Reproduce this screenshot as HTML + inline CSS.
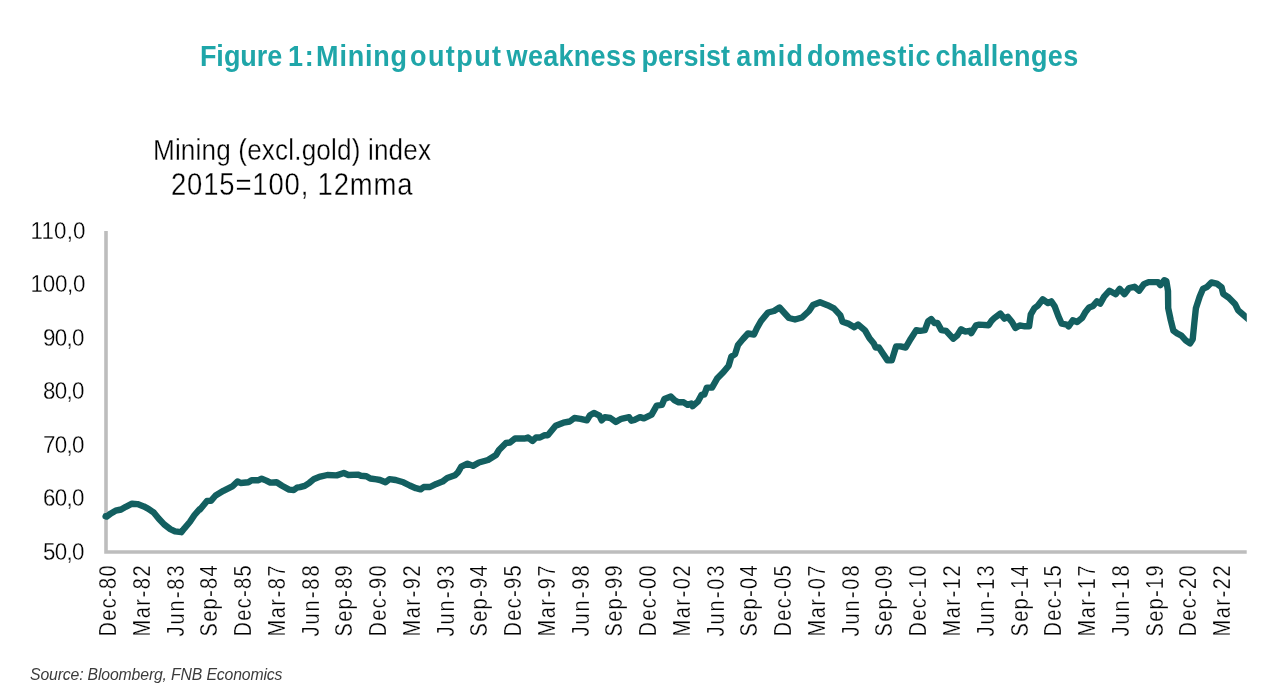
<!DOCTYPE html>
<html><head><meta charset="utf-8"><style>
html,body{margin:0;padding:0;background:#fff;overflow:hidden;}
svg{display:block;font-family:"Liberation Sans",sans-serif;will-change:transform;}
</style></head><body>
<svg width="1280" height="700" viewBox="0 0 1280 700">
<rect width="1280" height="700" fill="#fff"/>
<g fill="#1fa6a9" font-weight="bold" font-size="30" stroke="#fff" stroke-width="0"><text transform="translate(199.9,65.5) scale(0.9,1)" textLength="91.63" lengthAdjust="spacing">Figure</text>
<text transform="translate(288.0,65.5) scale(0.9,1)" textLength="28.50" lengthAdjust="spacing">1:</text>
<text transform="translate(316.12,65.5) scale(0.9,1)" textLength="100.97" lengthAdjust="spacing">Mining</text>
<text transform="translate(410.04,65.5) scale(0.9,1)" textLength="101.17" lengthAdjust="spacing">output</text>
<text transform="translate(506.6,65.5) scale(0.9,1)" textLength="144.03" lengthAdjust="spacing">weakness</text>
<text transform="translate(641.54,65.5) scale(0.9,1)" textLength="98.40" lengthAdjust="spacing">persist</text>
<text transform="translate(736.24,65.5) scale(0.9,1)" textLength="74.16" lengthAdjust="spacing">amid</text>
<text transform="translate(806.89,65.5) scale(0.9,1)" textLength="137.39" lengthAdjust="spacing">domestic</text>
<text transform="translate(935.42,65.5) scale(0.9,1)" textLength="158.59" lengthAdjust="spacing">challenges</text></g>
<g fill="#000" stroke="#fff" stroke-width="0.3">
<text transform="translate(153.00,160.00) scale(0.87,1)" font-size="30" textLength="319.54" lengthAdjust="spacing">Mining (excl.gold) index</text>
<text transform="translate(171.00,194.90) scale(0.9,1)" font-size="30.5" textLength="268.33" lengthAdjust="spacing">2015=100, 12mma</text>
</g>
<g fill="#000" stroke="#fff" stroke-width="0.25">
<text transform="translate(30.50,238.80) scale(0.95,1)" font-size="23.5" textLength="57.89" lengthAdjust="spacing">110,0</text>
<text transform="translate(30.50,292.30) scale(0.95,1)" font-size="23.5" textLength="57.89" lengthAdjust="spacing">100,0</text>
<text transform="translate(43.00,345.50) scale(0.95,1)" font-size="23.5" textLength="43.68" lengthAdjust="spacing">90,0</text>
<text transform="translate(43.00,399.00) scale(0.95,1)" font-size="23.5" textLength="43.68" lengthAdjust="spacing">80,0</text>
<text transform="translate(43.00,452.50) scale(0.95,1)" font-size="23.5" textLength="43.68" lengthAdjust="spacing">70,0</text>
<text transform="translate(43.00,506.00) scale(0.95,1)" font-size="23.5" textLength="43.68" lengthAdjust="spacing">60,0</text>
<text transform="translate(43.00,559.50) scale(0.95,1)" font-size="23.5" textLength="43.68" lengthAdjust="spacing">50,0</text>
</g>
<g fill="#000" stroke="#fff" stroke-width="0.25">
<text transform="translate(116.00,565.50) rotate(-90) scale(0.85,1)" text-anchor="end" font-size="23.5" textLength="83.53" lengthAdjust="spacing">Dec-80</text>
<text transform="translate(149.76,565.50) rotate(-90) scale(0.85,1)" text-anchor="end" font-size="23.5" textLength="83.53" lengthAdjust="spacing">Mar-82</text>
<text transform="translate(183.52,565.50) rotate(-90) scale(0.85,1)" text-anchor="end" font-size="23.5" textLength="83.53" lengthAdjust="spacing">Jun-83</text>
<text transform="translate(217.28,565.50) rotate(-90) scale(0.85,1)" text-anchor="end" font-size="23.5" textLength="83.53" lengthAdjust="spacing">Sep-84</text>
<text transform="translate(251.04,565.50) rotate(-90) scale(0.85,1)" text-anchor="end" font-size="23.5" textLength="83.53" lengthAdjust="spacing">Dec-85</text>
<text transform="translate(284.80,565.50) rotate(-90) scale(0.85,1)" text-anchor="end" font-size="23.5" textLength="83.53" lengthAdjust="spacing">Mar-87</text>
<text transform="translate(318.56,565.50) rotate(-90) scale(0.85,1)" text-anchor="end" font-size="23.5" textLength="83.53" lengthAdjust="spacing">Jun-88</text>
<text transform="translate(352.32,565.50) rotate(-90) scale(0.85,1)" text-anchor="end" font-size="23.5" textLength="83.53" lengthAdjust="spacing">Sep-89</text>
<text transform="translate(386.08,565.50) rotate(-90) scale(0.85,1)" text-anchor="end" font-size="23.5" textLength="83.53" lengthAdjust="spacing">Dec-90</text>
<text transform="translate(419.84,565.50) rotate(-90) scale(0.85,1)" text-anchor="end" font-size="23.5" textLength="83.53" lengthAdjust="spacing">Mar-92</text>
<text transform="translate(453.60,565.50) rotate(-90) scale(0.85,1)" text-anchor="end" font-size="23.5" textLength="83.53" lengthAdjust="spacing">Jun-93</text>
<text transform="translate(487.36,565.50) rotate(-90) scale(0.85,1)" text-anchor="end" font-size="23.5" textLength="83.53" lengthAdjust="spacing">Sep-94</text>
<text transform="translate(521.12,565.50) rotate(-90) scale(0.85,1)" text-anchor="end" font-size="23.5" textLength="83.53" lengthAdjust="spacing">Dec-95</text>
<text transform="translate(554.88,565.50) rotate(-90) scale(0.85,1)" text-anchor="end" font-size="23.5" textLength="83.53" lengthAdjust="spacing">Mar-97</text>
<text transform="translate(588.64,565.50) rotate(-90) scale(0.85,1)" text-anchor="end" font-size="23.5" textLength="83.53" lengthAdjust="spacing">Jun-98</text>
<text transform="translate(622.40,565.50) rotate(-90) scale(0.85,1)" text-anchor="end" font-size="23.5" textLength="83.53" lengthAdjust="spacing">Sep-99</text>
<text transform="translate(656.16,565.50) rotate(-90) scale(0.85,1)" text-anchor="end" font-size="23.5" textLength="83.53" lengthAdjust="spacing">Dec-00</text>
<text transform="translate(689.92,565.50) rotate(-90) scale(0.85,1)" text-anchor="end" font-size="23.5" textLength="83.53" lengthAdjust="spacing">Mar-02</text>
<text transform="translate(723.68,565.50) rotate(-90) scale(0.85,1)" text-anchor="end" font-size="23.5" textLength="83.53" lengthAdjust="spacing">Jun-03</text>
<text transform="translate(757.44,565.50) rotate(-90) scale(0.85,1)" text-anchor="end" font-size="23.5" textLength="83.53" lengthAdjust="spacing">Sep-04</text>
<text transform="translate(791.20,565.50) rotate(-90) scale(0.85,1)" text-anchor="end" font-size="23.5" textLength="83.53" lengthAdjust="spacing">Dec-05</text>
<text transform="translate(824.96,565.50) rotate(-90) scale(0.85,1)" text-anchor="end" font-size="23.5" textLength="83.53" lengthAdjust="spacing">Mar-07</text>
<text transform="translate(858.72,565.50) rotate(-90) scale(0.85,1)" text-anchor="end" font-size="23.5" textLength="83.53" lengthAdjust="spacing">Jun-08</text>
<text transform="translate(892.48,565.50) rotate(-90) scale(0.85,1)" text-anchor="end" font-size="23.5" textLength="83.53" lengthAdjust="spacing">Sep-09</text>
<text transform="translate(926.24,565.50) rotate(-90) scale(0.85,1)" text-anchor="end" font-size="23.5" textLength="83.53" lengthAdjust="spacing">Dec-10</text>
<text transform="translate(960.00,565.50) rotate(-90) scale(0.85,1)" text-anchor="end" font-size="23.5" textLength="83.53" lengthAdjust="spacing">Mar-12</text>
<text transform="translate(993.76,565.50) rotate(-90) scale(0.85,1)" text-anchor="end" font-size="23.5" textLength="83.53" lengthAdjust="spacing">Jun-13</text>
<text transform="translate(1027.52,565.50) rotate(-90) scale(0.85,1)" text-anchor="end" font-size="23.5" textLength="83.53" lengthAdjust="spacing">Sep-14</text>
<text transform="translate(1061.28,565.50) rotate(-90) scale(0.85,1)" text-anchor="end" font-size="23.5" textLength="83.53" lengthAdjust="spacing">Dec-15</text>
<text transform="translate(1095.04,565.50) rotate(-90) scale(0.85,1)" text-anchor="end" font-size="23.5" textLength="83.53" lengthAdjust="spacing">Mar-17</text>
<text transform="translate(1128.80,565.50) rotate(-90) scale(0.85,1)" text-anchor="end" font-size="23.5" textLength="83.53" lengthAdjust="spacing">Jun-18</text>
<text transform="translate(1162.56,565.50) rotate(-90) scale(0.85,1)" text-anchor="end" font-size="23.5" textLength="83.53" lengthAdjust="spacing">Sep-19</text>
<text transform="translate(1196.32,565.50) rotate(-90) scale(0.85,1)" text-anchor="end" font-size="23.5" textLength="83.53" lengthAdjust="spacing">Dec-20</text>
<text transform="translate(1230.08,565.50) rotate(-90) scale(0.85,1)" text-anchor="end" font-size="23.5" textLength="83.53" lengthAdjust="spacing">Mar-22</text>
</g>
<path d="M106,231 L106,552 L1246.7,552" fill="none" stroke="#bdbdbd" stroke-width="3.6"/>
<clipPath id="pc"><rect x="0" y="0" width="1246.8" height="700"/></clipPath>
<path clip-path="url(#pc)" d="M105.6,516.3 L106.6,516.6 L110.9,513.4 L115.6,510.7 L121.1,509.5 L125.8,506.8 L132.0,503.7 L137.5,504.1 L143.8,506.4 L148.4,508.8 L153.9,512.7 L158.6,518.5 L164.1,524.4 L170.3,529.1 L175.0,531.4 L181.3,532.2 L184.4,528.3 L189.8,522.0 L194.5,515.0 L199.5,509.3 L200.0,509.5 L207.0,500.9 L210.9,500.9 L215.6,495.5 L223.4,490.8 L232.8,486.1 L237.5,481.4 L240.6,483.0 L248.4,482.2 L251.6,480.2 L258.6,480.2 L261.7,478.7 L266.4,480.6 L270.3,482.6 L276.6,482.2 L282.0,485.7 L289.1,489.6 L293.8,490.0 L296.9,487.7 L300.0,487.2 L304.7,485.9 L309.4,482.8 L314.1,478.9 L320.3,476.6 L327.3,475.0 L336.7,475.4 L343.8,473.0 L348.4,475.0 L357.8,474.6 L360.9,475.8 L366.4,476.2 L370.3,478.5 L376.6,479.3 L380.0,480.0 L385.5,482.3 L389.4,479.2 L395.6,480.0 L403.4,482.3 L409.7,485.5 L415.9,488.2 L420.6,489.4 L423.8,487.0 L430.0,487.0 L436.3,483.9 L442.5,481.6 L447.2,478.0 L455.0,475.3 L458.1,472.2 L461.3,466.7 L467.5,463.6 L473.0,465.9 L479.0,462.5 L488.0,460.0 L496.0,455.0 L499.0,450.0 L506.0,443.0 L510.0,442.5 L515.0,438.5 L525.0,438.5 L528.0,437.5 L532.5,441.0 L536.0,437.5 L540.0,437.5 L544.7,435.2 L547.8,435.2 L555.6,425.8 L563.4,422.7 L569.7,421.5 L574.4,418.0 L580.6,418.8 L586.9,420.3 L590.0,415.2 L593.9,412.9 L599.4,415.6 L601.7,420.3 L604.8,417.2 L610.3,418.0 L615.8,421.9 L621.3,418.8 L629.1,417.2 L631.4,420.7 L634.5,419.9 L640.0,417.1 L643.9,418.4 L651.6,414.6 L656.7,405.6 L661.9,404.9 L664.4,399.1 L670.8,396.6 L674.7,400.4 L678.6,402.3 L683.7,402.3 L687.6,404.9 L691.4,403.6 L692.7,406.2 L697.8,401.7 L701.7,394.6 L704.3,394.6 L706.8,387.6 L712.0,387.6 L717.1,378.6 L723.5,372.1 L728.7,365.7 L731.3,356.7 L735.1,354.1 L738.0,345.0 L743.0,339.0 L748.0,333.5 L754.0,334.5 L757.0,328.0 L761.0,321.0 L768.0,312.5 L774.0,311.0 L779.5,307.5 L784.0,312.5 L789.0,318.0 L795.0,319.5 L802.0,317.5 L809.0,311.0 L813.0,305.0 L820.0,302.2 L827.5,305.2 L833.9,308.4 L840.4,315.4 L842.5,321.8 L848.9,323.9 L854.3,327.2 L858.0,324.5 L865.0,330.4 L869.3,337.9 L873.6,343.2 L875.7,347.5 L878.9,347.5 L883.2,354.0 L887.5,360.4 L891.8,360.4 L896.1,346.4 L900.4,346.4 L905.7,347.5 L910.8,338.7 L916.3,330.1 L920.2,330.8 L924.9,330.1 L928.1,321.4 L931.2,319.1 L934.4,323.0 L937.5,323.0 L941.4,330.1 L946.1,330.8 L953.2,338.7 L957.1,335.6 L961.1,329.3 L965.0,331.6 L969.7,330.8 L971.3,333.2 L976.0,325.3 L979.1,324.6 L988.6,325.3 L991.7,320.6 L994.1,318.3 L1000.3,313.6 L1004.3,318.6 L1007.7,316.8 L1012.0,322.0 L1015.4,328.0 L1019.7,325.4 L1024.8,326.3 L1029.1,326.3 L1030.8,314.3 L1034.3,308.3 L1037.7,305.7 L1042.8,299.3 L1048.0,303.1 L1051.4,301.4 L1054.8,306.6 L1058.3,316.0 L1061.7,323.7 L1066.8,324.6 L1068.6,326.3 L1072.8,320.3 L1077.1,322.0 L1082.3,317.7 L1085.7,311.7 L1089.1,307.4 L1093.1,305.9 L1097.0,301.3 L1100.2,303.6 L1104.1,296.6 L1109.5,290.7 L1115.8,294.2 L1119.7,288.8 L1124.4,294.2 L1129.1,288.0 L1134.5,286.8 L1139.2,290.7 L1143.9,284.1 L1148.6,282.1 L1158.0,282.1 L1160.3,285.2 L1164.3,280.2 L1166.4,281.2 L1168.0,291.1 L1168.2,308.2 L1170.7,320.0 L1173.4,330.7 L1177.1,333.4 L1181.4,335.6 L1185.7,340.4 L1190.0,343.4 L1192.7,339.3 L1194.3,323.2 L1195.9,308.2 L1199.7,296.4 L1202.9,288.9 L1207.2,286.8 L1211.4,282.5 L1216.8,283.6 L1221.6,287.3 L1223.2,293.8 L1228.6,297.5 L1235.0,303.9 L1238.2,310.4 L1241.5,313.2 L1250.0,320.6" fill="none" stroke="#135f60" stroke-width="6.4" stroke-linejoin="round" stroke-linecap="round"/>
<g fill="#3c3c3c" font-style="italic" stroke="#fff" stroke-width="0"><text transform="translate(30.00,679.80) scale(1.0,1)" font-size="15.8" textLength="252.50" lengthAdjust="spacing">Source: Bloomberg, FNB Economics</text></g>
</svg>
</body></html>
